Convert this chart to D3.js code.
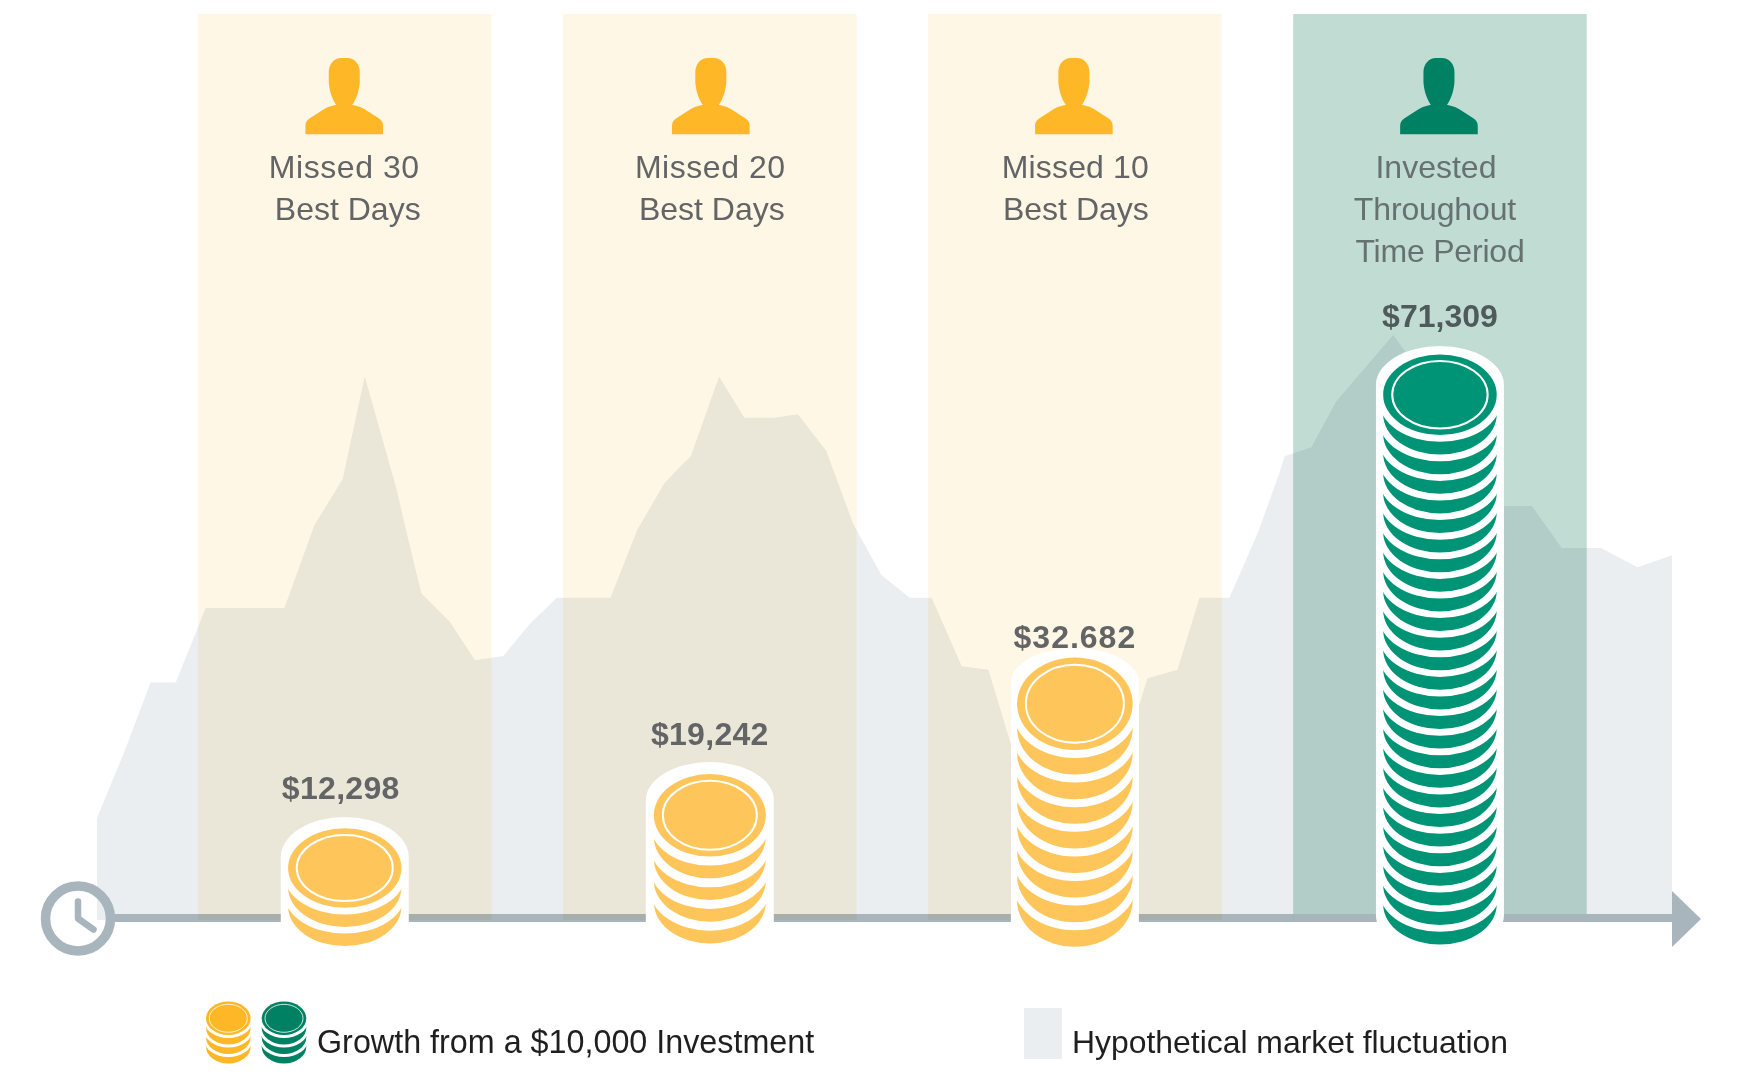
<!DOCTYPE html>
<html><head><meta charset="utf-8">
<script src="https://cdn.jsdelivr.net/npm/d3@7"></script>
<style>
html,body{margin:0;padding:0;background:#fff}
svg{display:block}
text{font-family:"Liberation Sans",Arial,sans-serif}
</style></head><body>
<svg id="c" width="1757" height="1080"></svg>
<script>
// ---- data ----
const categories = ["Missed 30","Missed 20","Missed 10","Invested"];
const labelLines = [["Missed 30","Best Days"],["Missed 20","Best Days"],["Missed 10","Best Days"],["Invested","Throughout","Time Period"]];
const finalValues = [12298,19242,32682,71309];
const coinCounts = [3,5,9,27];
const marketTime = [0,1.7,3.4,5,6.9,11.9,13.8,15.6,17,19,19.8,20.6,22.4,24,25.8,27.5,29.2,32.6,34.3,36,37,37.7,39.5,41.1,43,44.5,46.3,48,49.8,51.6,53,54.9,56.6,58,62,66.2,66.7,68.6,70,71.9,73.7,75.1,75.4,77.1,78.7,82.3,85.3,89.3,91.1,93,95.5,97.8,100];
const marketLevel = [17,27.8,39.6,39.6,52,52,65.8,73.5,90.6,72,63,54.4,49.7,43.3,44,49.4,53.7,53.7,65,72.7,75.5,77.3,90.6,83.7,83.7,84.3,78.2,66.1,57.5,53.7,53.7,42.3,41.7,29.5,26.7,36.1,40.3,41.7,53.7,53.7,64.5,74.7,77.3,78.8,86.5,97.5,86.7,69,69,62,62,58.8,60.8];
const legendCoins = "Growth from a $10,000 Investment";
const legendMarket = "Hypothetical market fluctuation";

// ---- styles and layout ----
const gold="#fec65a", goldDark="#fdb727", green="#009477", greenDark="#008163", grey="#a9b5bd", textGrey="#636466", textGreen="#4f5b59", labelGreen="#667270";
const stackLayout = [
 {cy:868,  rx:56.7,ry:39.7,step:19.2,gap:6.7,ringRx:48,  ringRy:33, top:817,shoulder:857,hip:930,bottom:961},
 {cy:815.3,rx:56,  ry:41.3,step:21.7,gap:9,  ringRx:47,  ringRy:34.5,top:762,shoulder:800,hip:927,bottom:960},
 {cy:703.7,rx:57.8,ry:46.3,step:24.6,gap:8,  ringRx:49,  ringRy:39, top:648,shoulder:683,hip:927,bottom:963},
 {cy:394.7,rx:56.8,ry:40.3,step:19.6,gap:6.7,ringRx:47.7,ringRy:33.8,top:346,shoulder:385,hip:915,bottom:956}
];
const valueBaseline=[799,745,648,327];
const valueSpacing=[0.3,0.3,1,0];
const iconShift=[-0.5,1,-1,-1];
const labelShift=[[-0.5,3],[0.5,2],[0.5,1],[-4,-5,0]];
const labelSpacing=[[0.55,0],[0.55,0],[0.15,0],[0,-0.15,-0.2]];
const personPath="M-8,47C-9,47-15,48-20,51L-34,60C-37,62-38.8,64-38.8,68L-38.8,76.3L38.8,76.3L38.8,68C38.8,64 37,62 34,60L20,51C15,48 9,47 8,47C12,41 15,33 15.5,24L15.5,14C15.5,6 10,0 3,0L-3,0C-10,0-15.5,6-15.5,14L-15.5,24C-15,33-12,41-8,47Z";

const svg=d3.select("#c");
svg.append("rect").attr("width",1757).attr("height",1080).attr("fill","#fff");

const band=d3.scaleBand().domain(categories).range([198,1586.7]).paddingInner(0.196).paddingOuter(0);
const tx=d3.scaleLinear().domain([0,100]).range([97,1672]);
const ty=d3.scaleLinear().domain([0,100]).range([920,320]);
const cxOf=c=>band(c)+band.bandwidth()/2;
const axisY=918;

// market area
const area=d3.area().x(d=>tx(d[0])).y0(ty(0)).y1(d=>ty(d[1]));
svg.append("path").datum(d3.zip(marketTime,marketLevel)).attr("d",area).attr("fill","#ebeef1");

// time axis
svg.append("line").attr("x1",108).attr("x2",1680).attr("y1",axisY).attr("y2",axisY).attr("stroke",grey).attr("stroke-width",8);

// column bands, multiplied over area and axis
svg.append("g").style("mix-blend-mode","multiply").selectAll("rect").data(categories).join("rect")
  .attr("x",d=>band(d)).attr("y",14).attr("width",band.bandwidth()).attr("height",906)
  .attr("fill",(d,i)=>i===3?"#c1dcd3":"#fef7e5");

// axis stays clean across the last band; clock and arrow
svg.append("line").attr("x1",band(categories[3])).attr("x2",1680).attr("y1",axisY).attr("y2",axisY).attr("stroke",grey).attr("stroke-width",8);
svg.append("path").attr("d",`M1672,891L1701,919L1672,947Z`).attr("fill",grey);
const clock=svg.append("g").attr("transform",`translate(78,918.5)`);
clock.append("circle").attr("r",32.5).attr("fill","none").attr("stroke",grey).attr("stroke-width",9.5);
clock.append("path").attr("d","M0,-17V0L15.5,11").attr("fill","none").attr("stroke",grey).attr("stroke-width",6.5).attr("stroke-linecap","round").attr("stroke-linejoin","round");

// person icons
svg.append("g").selectAll("path").data(categories).join("path")
  .attr("d",personPath).attr("transform",(d,i)=>`translate(${cxOf(d)+iconShift[i]},58)`)
  .attr("fill",(d,i)=>i===3?greenDark:goldDark);

// column labels
categories.forEach((c,i)=>{
  svg.append("g").selectAll("text").data(labelLines[i]).join("text")
    .attr("x",(d,j)=>cxOf(c)+labelShift[i][j]).attr("y",(d,j)=>178+j*42)
    .attr("text-anchor","middle").attr("font-size",32).attr("letter-spacing",(d,j)=>labelSpacing[i][j]).attr("fill",i===3?labelGreen:textGrey).text(d=>d);
  svg.append("text").attr("x",cxOf(c)-(i===0?4:0)).attr("y",valueBaseline[i])
    .attr("text-anchor","middle").attr("font-size",32).attr("font-weight",700).attr("letter-spacing",valueSpacing[i])
    .attr("fill",i===3?textGreen:textGrey).text(d3.format("$,")(finalValues[i]));
});

// coin stacks
function coins(g,cx,n,s,col,ringW){
  for(let i=n-1;i>=1;i--){
    g.append("ellipse").attr("cx",cx).attr("cy",s.cy+i*s.step).attr("rx",s.rx).attr("ry",s.ry).attr("fill",col);
    g.append("ellipse").attr("cx",cx).attr("cy",s.cy+(i-1)*s.step+s.gap).attr("rx",s.rx*1.07).attr("ry",s.ry).attr("fill","#fff");
  }
  g.append("ellipse").attr("cx",cx).attr("cy",s.cy).attr("rx",s.rx).attr("ry",s.ry).attr("fill",col);
  g.append("ellipse").attr("cx",cx).attr("cy",s.cy).attr("rx",s.ringRx).attr("ry",s.ringRy).attr("fill",col).attr("stroke","#fff").attr("stroke-width",ringW);
}
categories.forEach((c,i)=>{
  const s=stackLayout[i], cx=cxOf(c), R=64;
  const g=svg.append("g");
  g.append("path").attr("fill","#fff").attr("d",
    `M${cx-R},${s.shoulder}A${R},${s.shoulder-s.top} 0 0 1 ${cx+R},${s.shoulder}V${s.hip}A${R},${s.bottom-s.hip} 0 0 1 ${cx-R},${s.hip}Z`);
  coins(g,cx,coinCounts[i],s,i===3?green:gold,2);
});

// legend
const legendStack={cy:1018.3,rx:22.3,ry:16.7,step:9.5,gap:3,ringRx:19,ringRy:14};
coins(svg.append("g"),228.3,4,legendStack,goldDark,0.8);
coins(svg.append("g"),284,4,legendStack,greenDark,0.8);
svg.append("text").attr("x",317).attr("y",1052.5).attr("font-size",32.3).attr("fill","#1f1f1f").text(legendCoins);
svg.append("rect").attr("x",1024).attr("y",1008).attr("width",38).attr("height",51).attr("fill","#ebeef1");
svg.append("text").attr("x",1072).attr("y",1052.5).attr("font-size",31.9).attr("fill","#1f1f1f").text(legendMarket);
</script></body></html>
